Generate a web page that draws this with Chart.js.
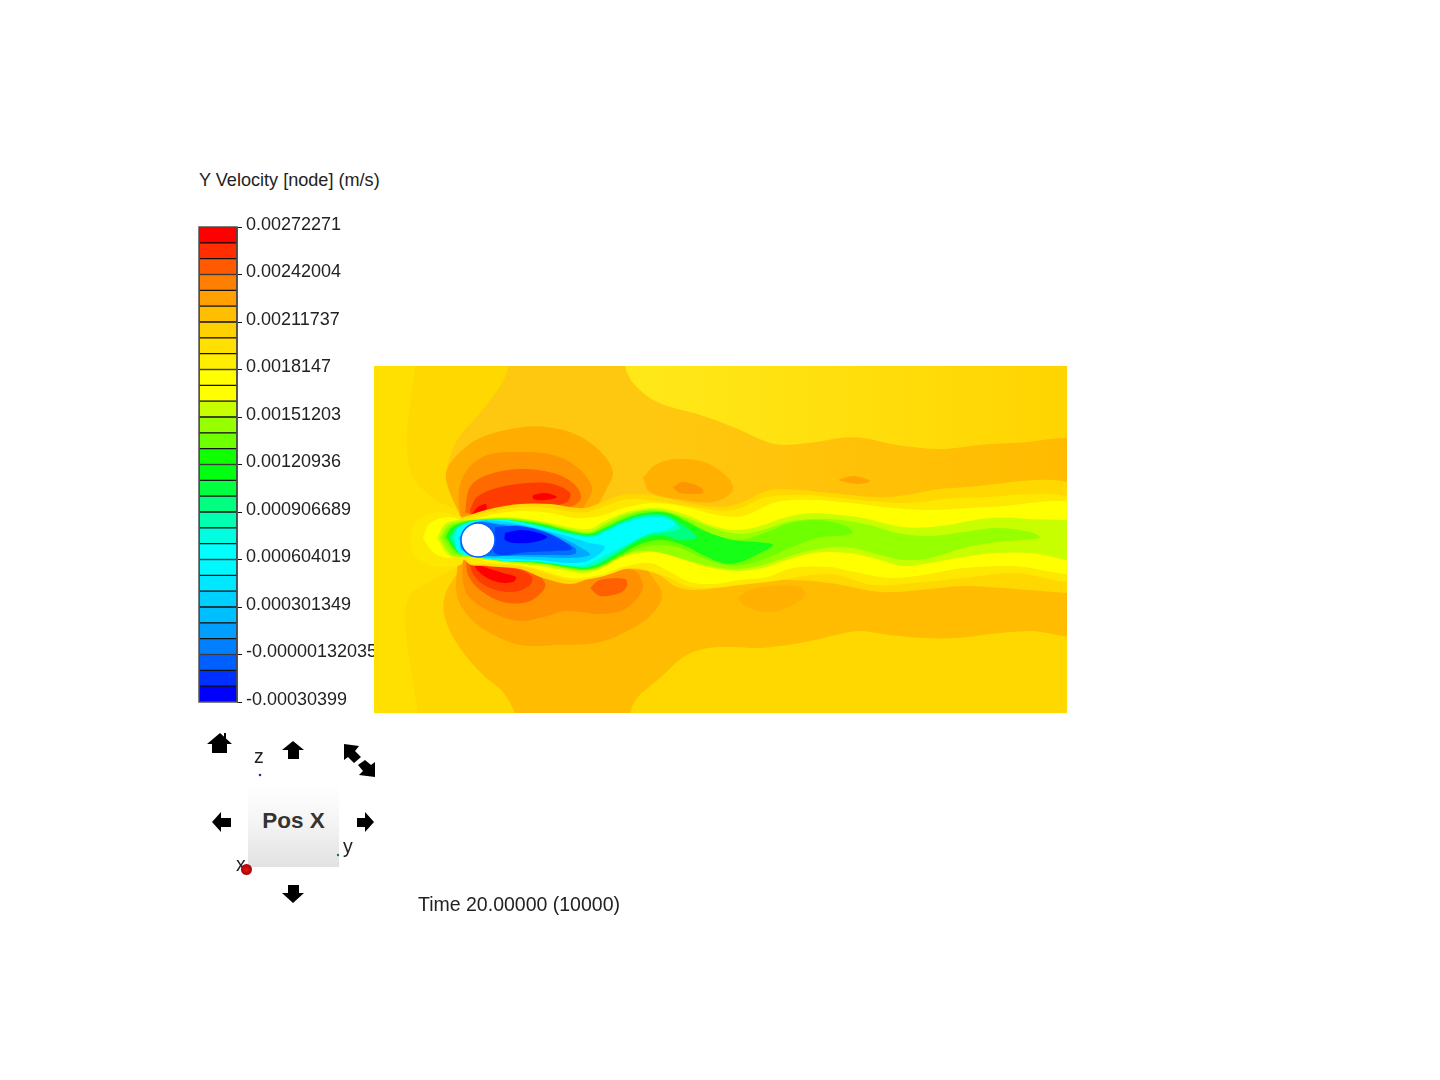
<!DOCTYPE html>
<html>
<head>
<meta charset="utf-8">
<title>Y Velocity</title>
<script src="https://cdn.jsdelivr.net/npm/chart.js@4/dist/chart.umd.min.js"></script>
<style>
  html, body { margin:0; padding:0; background:#fff; }
  body { width:1440px; height:1080px; position:relative; overflow:hidden; font-family:"Liberation Sans", Arial, sans-serif; color:#222; }
  canvas { position:absolute; }
  #field { left:374px; top:366px; }
  #bar { left:189px; top:207px; }
  .txt { position:absolute; font-size:18px; line-height:20px; white-space:nowrap; }
  #cube { position:absolute; left:248px; top:785px; width:91px; height:82px; background:linear-gradient(#fff 0%, #f6f6f6 40%, #e2e2e2 100%); text-align:center; line-height:72px; font-size:22.5px; font-weight:bold; color:#333; }
  #nav { position:absolute; left:0; top:0; }
</style>
</head>
<body>
<div class="txt" style="left:199px;top:170px;font-size:18.1px">Y Velocity [node] (m/s)</div>
<canvas id="bar" width="210" height="515"></canvas>
<canvas id="field" width="693" height="347"></canvas>
<div id="cube">Pos X</div>
<svg id="nav" width="1440" height="1080">
  <path d="M220 733 L232 744 L227 744 L227 753 L212 753 L212 744 L207 744 Z M224 733 h2 v6 h-2 Z"/>
  <path d="M293 741 L304 750 L299 750 L299 759 L288 759 L288 750 L282 750 Z"/>
  <path d="M212 822 L221 812 L221 818 L231 818 L231 827 L221 827 L221 832 Z"/>
  <path d="M374 822 L365 812 L365 818 L357 818 L357 827 L365 827 L365 832 Z"/>
  <path d="M293 903 L304 893 L299 893 L299 885 L288 885 L288 893 L282 893 Z"/>
  <path d="M344 744 L359 746 L355 751 L361 757 L354 763 L348 757 L344 760 Z"/>
  <path d="M375 777 L359 775 L363 771 L358 765 L365 760 L371 765 L375 762 Z"/>
  <circle cx="260" cy="775" r="1.3" fill="#223388"/>
  <circle cx="338" cy="855" r="1.2" fill="#227733"/>
  <defs><radialGradient id="dot"><stop offset="0" stop-color="#f01010"/><stop offset="1" stop-color="#a00808"/></radialGradient></defs>
</svg>
<div class="txt" style="left:254px;top:746px;font-size:19.5px">z</div>
<div class="txt" style="left:343px;top:836px;font-size:19.5px">y</div>
<div class="txt" style="left:236px;top:854px;font-size:19.5px">x</div>
<svg style="position:absolute;left:240px;top:863px" width="13" height="13"><circle cx="6.5" cy="6.5" r="5.5" fill="url(#dot)"/></svg>
<div class="txt" style="left:418px;top:894px;font-size:19.5px">Time 20.00000 (10000)</div>

<script>
// colour bar
const barEdges = [-0.00030399,-0.0002031,-0.00010221,-0.00000132,0.00009957,0.00020046,0.00030135,0.00040224,0.00050313,0.00060402,0.00070491,0.0008058,0.00090669,0.00100758,0.00110847,0.00120936,0.00131025,0.00141114,0.00151203,0.00161292,0.00171381,0.0018147,0.00191559,0.00201648,0.00211737,0.00221826,0.00231915,0.00242004,0.00252093,0.00262182,0.00272271];
const barColors = ['#0000ff','#0030ff','#0060ff','#0080ff','#009fff','#00bfff','#00d0ff','#00e8ff','#00f8ff','#00ffff','#00ffe0','#00ffb0','#00ff80','#00ff40','#00ff10','#10ff00','#6eff00','#96ff00','#c8ff00','#ffff00','#ffff00','#ffee00','#ffe000','#ffd000','#ffbf00','#ffa000','#ff8000','#ff5a00','#ff2d00','#ff0000'];
const tickValues = [0.00272271,0.00242004,0.00211737,0.0018147,0.00151203,0.00120936,0.00090669,0.00060402,0.00030135,-0.00000132,-0.00030399];
const tickLabels = ['0.00272271','0.00242004','0.00211737','0.0018147','0.00151203','0.00120936','0.000906689','0.000604019','0.000301349','-0.00000132035','-0.00030399'];

// contour outlines, x/y in the picture's own frame
const upperTop = [[625,350],[625,366],[633,383],[657,402],[700,415],[733,427],[767,442],[783,445],[817,442],[840,438],[863,438],[897,445],[940,449],[980,445],[1013,443],[1085,445],[1085,350],[625,350]];
const midZone = [[415,350],[415,366],[413,383],[407,437],[412,475],[433,498],[460,515],[463,560],[437,578],[412,593],[405,615],[412,678],[418,713],[420,730],[1085,730],[1085,350],[415,350]];
const innerUpper = [[508,350],[508,366],[502,383],[480,413],[457,440],[447,470],[450,487],[462,517],[470,540],[700,540],[1085,540],[1085,445],[1013,443],[980,445],[940,449],[897,445],[863,438],[840,438],[817,442],[783,445],[767,442],[733,427],[700,415],[657,402],[633,383],[625,366],[625,350],[508,350]];
const innerLower = [[465,540],[465,560],[458,572],[445,595],[445,618],[460,648],[483,675],[503,692],[515,713],[520,730],[628,730],[630,713],[637,698],[660,678],[685,656],[708,648],[733,647],[760,648],[800,643],[840,634],[860,631],[890,635],[923,638],[957,638],[990,634],[1030,631],[1085,632],[1085,540],[465,540]];
const lobeUp1 = [[462,518],[450,493],[446,473],[457,455],[480,438],[517,428],[547,427],[577,435],[600,451],[613,472],[606,490],[598,505],[590,520],[500,525],[462,518]];
const lobeUp2 = [[460,516],[459,490],[467,470],[487,455],[520,452],[553,455],[577,467],[592,487],[588,500],[575,515],[500,525],[460,516]];
const lobeUp3 = [[465,512],[470,487],[487,475],[520,469],[553,473],[573,483],[581,497],[573,506],[540,515],[490,520],[465,512]];
const lobeUp4 = [[470,510],[477,497],[497,488],[527,483],[553,484],[570,493],[567,502],[550,506],[520,508],[493,514],[473,519],[470,510]];
const redUp1 = [[472,514],[478,507],[486,504],[486,510],[478,516],[472,514]];
const redUp2 = [[533,495],[545,493],[557,497],[546,500],[533,499],[533,495]];
const lobeLow1 = [[458,560],[457,595],[470,618],[490,633],[520,645],[557,645],[600,642],[633,628],[653,613],[662,595],[653,578],[640,565],[560,560],[458,560]];
const lobeLow2 = [[463,560],[463,582],[470,598],[493,613],[520,621],[543,617],[567,611],[600,614],[623,610],[638,597],[643,585],[633,570],[560,565],[463,560]];
const lobeLow3 = [[466,560],[468,575],[480,590],[503,602],[527,602],[542,592],[545,583],[533,571],[500,563],[466,560]];
const lobeLow3b = [[590,588],[600,580],[625,579],[627,586],[620,593],[600,596],[590,588]];
const lobeLow4 = [[468,560],[475,577],[490,588],[513,592],[530,585],[532,577],[520,570],[503,567],[483,563],[468,560]];
const redLow = [[472,562],[480,573],[497,582],[513,582],[516,577],[503,573],[487,568],[472,562]];
const blobA = [[643,478],[655,465],[677,459],[707,463],[730,480],[732,492],[713,502],[683,500],[650,492],[643,478]];
const blobAcore = [[673,487],[683,482],[700,487],[703,493],[680,493],[673,487]];
const blobB = [[737,598],[750,590],[773,586],[800,587],[805,595],[793,605],[770,612],[747,607],[737,598]];
const blobC = [[838,480],[853,476],[870,481],[857,484],[838,480]];
const noseOuter = [[460,517],[440,512],[417,520],[410,538],[414,555],[427,564],[447,567],[463,562],[460,517]];
const wakeD8 = [[463,517],[490,509],[520,504],[550,504],[570,507],[585,508],[600,503],[623,495],[650,495],[683,502],[717,507],[740,503],[770,490],[800,490],[830,493],[887,497],[953,488],[1085,490],[1085,594],[1067,593],[1003,588],[963,586],[920,590],[880,592],[830,583],[783,580],[733,585],[697,590],[677,587],[657,574],[633,569],[610,571],[590,578],[570,584],[543,578],[520,569],[487,566],[467,562],[463,517]];
const wakeE8 = [[462,519],[490,512],[520,507],[550,508],[572,512],[588,512],[603,507],[623,500],[650,500],[700,508],[733,510],[767,497],[807,495],[830,497],[903,503],[963,498],[1085,503],[1085,578],[1013,573],[963,578],[913,583],[873,585],[830,574],[767,582],[740,585],[713,588],[690,587],[667,577],[633,568],[600,577],[572,580],[545,573],[520,566],[490,564],[465,560],[462,519]];
const wakeYellow = [[423,538],[430,523],[450,517],[465,521],[490,515],[520,511],[550,513],[575,518],[600,516],[627,507],[657,503],[690,508],[717,515],[743,516],[777,502],[817,500],[840,502],[923,510],[987,507],[1085,507],[1085,570],[1013,566],[963,568],[923,575],[890,578],[850,571],[830,567],[793,568],[767,577],[740,580],[713,584],[690,582],[670,572],[650,563],[623,567],[600,575],[570,578],[545,571],[520,565],[490,562],[463,556],[447,558],[433,552],[423,538]];
const wakeC8 = [[437,538],[445,524],[458,520],[473,519],[507,517],[540,521],[573,528],[590,529],[603,522],[627,512],[657,508],[687,515],[710,525],[733,530],[757,527],[787,517],[813,513],[840,515],[863,518],[903,527],[940,526],[990,518],[1030,519],[1085,526],[1085,559],[1030,553],[997,553],[963,557],[930,563],[903,566],[873,558],[847,553],[813,553],[787,560],[763,568],[737,571],[713,568],[690,562],[663,553],[640,553],[620,558],[600,569],[585,573],[573,572],[540,566],[507,563],[473,558],[450,556],[437,538]];
const wake96 = [[440,538],[447,526],[460,521],[474,520],[507,518],[540,522],[573,530],[590,532],[603,525],[627,514],[657,510],[687,518],[713,528],[740,534],[763,530],[787,522],[813,519],[840,520],[870,525],[897,533],[930,536],[963,532],[997,528],[1030,532],[1040,537],[1033,539],[997,542],[963,548],[930,558],[903,560],[880,555],[847,547],[813,550],[787,557],[760,566],[733,569],[710,566],[683,559],[657,552],[640,551],[620,556],[600,567],[585,571],[573,570],[540,564],[507,562],[473,557],[452,555],[440,538]];
const wake6E = [[443,537],[449,527],[461,522],[475,520],[507,519],[540,523],[573,531],[590,533],[603,527],[627,516],[645,511],[660,511],[677,515],[700,528],[720,537],[740,540],[767,532],[790,523],[817,520],[843,525],[853,532],[847,535],[817,538],[790,548],[767,558],[743,565],[727,565],[700,557],[680,548],[660,545],[640,548],[620,557],[600,567],[585,570],[573,569],[540,563],[507,561],[473,556],[455,553],[443,537]];
const wake16 = [[446,537],[451,528],[462,523],[476,520],[507,520],[540,524],[573,532],[590,534],[603,529],[627,518],[645,513],[667,513],[687,522],[707,532],[733,540],[757,542],[773,545],[760,553],[740,562],[723,563],[703,555],[683,545],[663,540],[643,543],[620,555],[600,566],[585,569],[573,568],[540,563],[507,561],[473,556],[457,552],[446,537]];
const wake80 = [[449,538],[454,529],[463,524],[476,521],[507,520],[540,525],[573,533],[592,535],[603,530],[625,520],[642,515],[665,515],[683,525],[697,538],[680,540],[660,535],[640,540],[620,552],[600,564],[585,568],[573,567],[540,562],[507,561],[473,556],[458,551],[449,538]];
const wakeTeal = [[452,538],[456,530],[465,524],[476,521],[507,520],[540,526],[573,534],[593,536],[603,532],[620,524],[640,517],[665,516],[680,528],[668,532],[650,534],[630,544],[600,562],[585,567],[573,566],[540,562],[507,561],[473,556],[459,550],[452,538]];
const wakeCyan = [[455,540],[458,528],[473,521],[507,520],[540,527],[573,535],[593,537],[603,533],[620,525],[643,518],[663,518],[675,524],[665,530],[650,533],[633,541],[617,549],[600,558],[585,565],[573,566],[540,562],[507,561],[470,556],[458,552],[455,540]];
const wakeD0 = [[458,538],[475,522],[507,522],[540,529],[570,537],[590,543],[605,547],[590,560],[570,563],[540,560],[507,559],[470,555],[458,538]];
const wakeA8 = [[460,538],[478,522],[500,524],[530,527],[560,537],[585,550],[590,555],[570,558],[540,557],[507,556],[480,556],[462,550],[460,538]];
const wake70 = [[465,530],[478,522],[500,525],[530,529],[555,537],[575,548],[575,554],[550,555],[520,555],[490,556],[466,550],[465,530]];
const wake40 = [[495,527],[520,526],[545,532],[563,541],[572,549],[555,551],[530,552],[495,553],[495,527]];
const wakeBlue = [[505,533],[520,530],[535,532],[547,537],[535,542],[515,543],[505,540],[505,533]];
const cylinder = [[478,540]];

const contours = [midZone, upperTop, innerUpper, innerLower, lobeUp1, lobeUp2, lobeUp3, lobeUp4, redUp1, redUp2, lobeLow1, lobeLow2, lobeLow3, lobeLow3b, lobeLow4, redLow, blobA, blobAcore, blobB, blobC, noseOuter, wakeD8, wakeE8, wakeYellow, wakeC8, wake96, wake6E, wake16, wake80, wakeTeal, wakeCyan, wakeD0, wakeA8, wake70, wake40, wakeBlue];
const contourColors = ['#ffd800','top','upper','#ffbc00','#ffae00','#ff9500','#ff6a00','#ff3c00','#ff0000','#ff0000','#ffa600','#ff9000','#ff6000','#ff6000','#ff3c00','#ff0000','#ffb000','#ff9500','#ffb000','#ffa400','#ffe800','#ffd800','#ffe800','#ffff00','#c8ff00','#96ff00','#6eff00','#16ff16','#00ff80','#00ffc8','#00ffff','#00d8ff','#00a8ff','#0070ff','#0040ff','#0000ff'];

const fieldCtx = document.getElementById('field').getContext('2d');
function sideGrad(a, b) {
  const g = fieldCtx.createLinearGradient(0, 0, 693, 0);
  g.addColorStop(0, a); g.addColorStop(0.4, a); g.addColorStop(1, b);
  return g;
}
const grads = { top: sideGrad('#ffe818', '#ffd400'), upper: sideGrad('#ffc810', '#ffbb00') };

const fieldSets = contours.map((poly, i) => ({
  data: poly.map(p => ({ x: p[0], y: p[1] })),
  showLine: true,
  fill: 'shape',
  tension: 0.35,
  borderWidth: 0,
  pointRadius: 0,
  backgroundColor: grads[contourColors[i]] || contourColors[i],
  order: contours.length - i + 1
}));
fieldSets.push({
  data: cylinder.map(p => ({ x: p[0], y: p[1] })),
  pointRadius: 17,
  backgroundColor: '#fff',
  borderColor: '#0a5cff',
  borderWidth: 1.5,
  order: 0
});

new Chart(fieldCtx, {
  type: 'scatter',
  data: { datasets: fieldSets },
  options: {
    responsive: false,
    animation: false,
    events: [],
    layout: { padding: 0, autoPadding: false },
    elements: { line: { capBezierPoints: false } },
    plugins: { legend: { display: false }, tooltip: { enabled: false } },
    scales: {
      x: { display: false, min: 374, max: 1067 },
      y: { display: false, min: 366, max: 713, reverse: true }
    }
  },
  plugins: [{
    id: 'base',
    beforeDraw(c) {
      c.ctx.save();
      c.ctx.fillStyle = '#ffe000';
      c.ctx.fillRect(0, 0, c.width, c.height);
      c.ctx.restore();
    }
  }]
});

new Chart(document.getElementById('bar'), {
  type: 'bar',
  data: {
    labels: ['band'],
    datasets: barColors.map((c, i) => ({
      data: [[barEdges[i], barEdges[i + 1]]],
      backgroundColor: c,
      borderColor: '#111',
      borderWidth: 1,
      borderSkipped: false,
      barPercentage: 1,
      categoryPercentage: 1
    }))
  },
  options: {
    responsive: false,
    animation: false,
    events: [],
    layout: { padding: { left: 10, top: 20, bottom: 20 } },
    plugins: { legend: { display: false }, tooltip: { enabled: false } },
    scales: {
      x: { display: false, stacked: true },
      y: {
        position: 'right',
        min: barEdges[0],
        max: barEdges[barEdges.length - 1],
        afterFit(s) { s.width = 162; },
        afterBuildTicks(s) { s.ticks = tickValues.map(v => ({ value: v })); },
        border: { color: '#555', width: 1 },
        grid: { drawOnChartArea: false, color: '#111', tickLength: 5, lineWidth: 1 },
        ticks: {
          padding: 4,
          labelOffset: -2,
          color: '#222',
          autoSkip: false,
          font: { family: '"Liberation Sans", Arial, sans-serif', size: 18 },
          callback(v, i) { return tickLabels[i]; }
        }
      }
    }
  },
  plugins: [{
    id: 'frame',
    afterDraw(c) {
      const a = c.chartArea, x = c.ctx;
      x.save();
      x.strokeStyle = '#555';
      x.lineWidth = 1.5;
      x.strokeRect(a.left, a.top, a.right - a.left, a.bottom - a.top);
      x.restore();
    }
  }]
});
</script>
</body>
</html>
